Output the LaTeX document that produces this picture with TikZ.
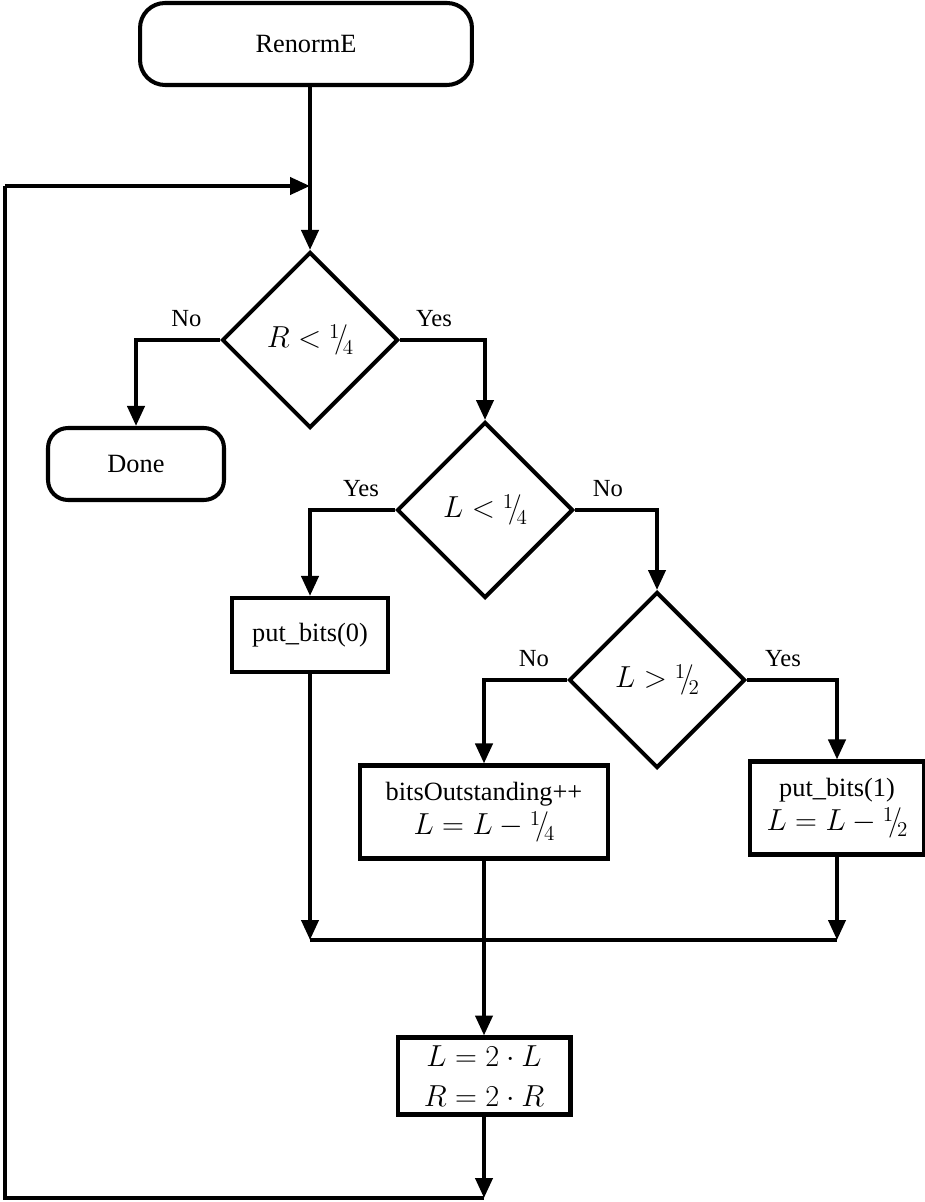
\documentclass[tikz,border=0pt]{standalone}
\usepackage{fontspec}
\setmainfont{Liberation Serif}
\usetikzlibrary{arrows.meta,shapes.geometric}
\newcommand{\qfr}[2]{\raisebox{0.6ex}{$\scriptstyle #1$}\!\Big/\!\raisebox{-0.5ex}{$\scriptstyle #2$}}
\begin{document}
\begin{tikzpicture}[
        x=0.02cm, y=-0.02cm,
        line width=2.3pt,
        font=\fontsize{15}{19}\selectfont,
        >={Triangle[length=4mm,width=3.4mm]},
        term/.style={
            rectangle,
            rounded corners=5mm,
            draw=black,
            align=center
        },
        box/.style={
            rectangle,
            draw=black,
            align=center,
            inner sep=0pt
        },
        decision/.style={
            diamond,
            draw=black,
            minimum width=3.52cm,
            minimum height=3.52cm,
            inner sep=0pt,
            font=\fontsize{18}{22}\selectfont
        },
        big/.style={
            font=\fontsize{17}{23}\selectfont
        },
        lbl/.style={
            font=\fontsize{14}{17}\selectfont
        },
    ]
        \useasboundingbox (0,0) rectangle (925,1202);
        \node [term, minimum width=6.64cm, minimum height=1.64cm] (renorm) at (306,44) {RenormE};
        \node [decision] (rtest) at (310,340) {$R < $ \qfr{1}{4}};
        \node [term, minimum width=3.52cm, minimum height=1.44cm, rounded corners=4mm] (done) at (136,464) {Done};
        \node [decision] (ltest) at (485,510) {$L < $ \qfr{1}{4}};
        \node [box, minimum width=3.12cm, minimum height=1.48cm] (put0) at (310,635) {put\_bits(0)};
        \node [decision] (htest) at (657,680) {$L > $ \qfr{1}{2}};
        \node [box, minimum width=4.96cm, minimum height=1.86cm] (bits) at (484,812) {bitsOutstanding++\\{\fontsize{17}{20}\selectfont$L = L - {}$\qfr{1}{4}}};
        \node [box, minimum width=3.5cm, minimum height=1.86cm] (put1) at (837,808) {put\_bits(1)\\{\fontsize{17}{20}\selectfont$L = L - {}$\qfr{1}{2}}};
        \node [box, big, minimum width=3.46cm, minimum height=1.54cm] (scale) at (484,1076) {$L = 2 \cdot L$\\$R = 2 \cdot R$};
        \coordinate (loop) at (310,186);
        \coordinate (join) at (484,940);
        \coordinate (bottom) at (484,1198);
        \draw [->] (renorm.south -| loop) -- (rtest);
        \draw [->] (5,186) -- (loop);
        \draw [->] (rtest.west) -| node [lbl, pos=0.2, above=1mm] {No} (done.north);
        \draw [->] (rtest.east) -| node [lbl, pos=0.2, above=1mm] {Yes} (ltest.north);
        \draw [->] (ltest.west) -| node [lbl, pos=0.2, above=1mm] {Yes} (put0.north);
        \draw [->] (ltest.east) -| node [lbl, pos=0.2, above=1mm] {No} (htest.north);
        \draw [->] (htest.west) -| node [lbl, pos=0.2, above=1mm] {No} (bits.north);
        \draw [->] (htest.east) -| node [lbl, pos=0.2, above=1mm] {Yes} (put1.north);
        \draw [->] (put0.south) -- (put0.south |- join);
        \draw [->] (put1.south) -- (put1.south |- join);
        \draw (put0.south |- join) -- (put1.south |- join);
        \draw [->] (bits.south) -- (scale.north);
        \draw [->] (scale.south) -- (bottom);
        \draw (bottom) -- (5,1198) -- (5,186);
    \end{tikzpicture}
\end{document}
